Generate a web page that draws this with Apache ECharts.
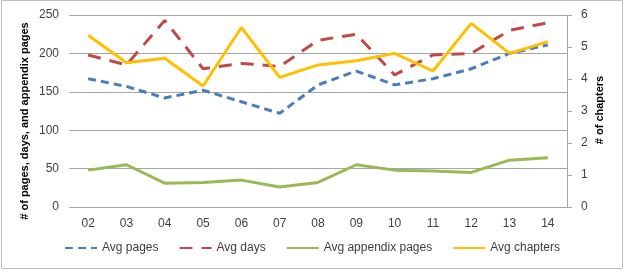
<!DOCTYPE html>
<html>
<head>
<meta charset="utf-8">
<script src="https://cdn.jsdelivr.net/npm/echarts@6/dist/echarts.min.js"></script>
<style>html,body{margin:0;padding:0;background:#fff}#c{width:624px;height:273px}</style>
</head>
<body>
<div id="c"></div>
<script>
var categories = ['02','03','04','05','06','07','08','09','10','11','12','13','14'];
var avgPages = [167, 157, 142, 152, 137, 122, 159, 177, 159, 167, 180, 200, 211];
var avgDays = [198, 185, 243, 180, 187, 183, 217, 225, 172, 198, 200, 230, 240];
var avgAppendix = [48, 55, 31, 32, 35, 26, 32, 55, 48, 47, 45, 61, 64];
var avgChapters = [5.37, 4.51, 4.65, 3.78, 5.61, 4.05, 4.44, 4.57, 4.8, 4.25, 5.74, 4.8, 5.17];
var leftTicks = [0, 50, 100, 150, 200, 250];
var rightTicks = [0, 1, 2, 3, 4, 5, 6];

var FONT = 'Liberation Sans';
var chart = echarts.init(document.getElementById('c'), null, {renderer: 'canvas'});
chart.setOption({
  animation: false,
  backgroundColor: '#fff',
  grid: {left: 69, right: 57, top: 15, bottom: 66},
  legend: {
    bottom: 14, left: 'center',
    itemWidth: 32, itemHeight: 10, itemGap: 20,
    itemStyle: {opacity: 0},
    textStyle: {fontFamily: FONT, fontSize: 12, color: '#404040'},
    data: ['Avg pages', 'Avg days', 'Avg appendix pages', 'Avg chapters']
  },
  xAxis: {
    type: 'category', data: categories, boundaryGap: true,
    axisLine: {show: false}, axisTick: {show: false},
    axisLabel: {fontFamily: FONT, fontSize: 12, color: '#404040', margin: 11}
  },
  yAxis: [{
    type: 'value', min: leftTicks[0], max: leftTicks[leftTicks.length-1], interval: 50,
    axisLine: {show: false}, axisTick: {show: false},
    splitLine: {lineStyle: {color: '#a6a6a6', width: 1}},
    axisLabel: {fontFamily: FONT, fontSize: 12, color: '#404040', margin: 10}
  }, {
    type: 'value', min: rightTicks[0], max: rightTicks[rightTicks.length-1], interval: 1,
    position: 'right',
    axisLine: {show: true, lineStyle: {color: '#a6a6a6'}},
    axisTick: {show: true, length: 5, lineStyle: {color: '#a6a6a6'}},
    splitLine: {show: false},
    axisLabel: {fontFamily: FONT, fontSize: 12, color: '#404040', margin: 14}
  }],
  graphic: [
    {type: 'rect', shape: {x: 1.5, y: 0.5, width: 621, height: 268}, style: {fill: 'none', stroke: '#bfbfbf', lineWidth: 1}, silent: true},
    {type: 'text', x: 25, y: 121, rotation: Math.PI/2, style: {text: '# of pages, days, and appendix pages', font: 'bold 11px ' + FONT, fill: '#000', textAlign: 'center', textVerticalAlign: 'middle'}},
    {type: 'text', x: 600, y: 110, rotation: Math.PI/2, style: {text: '# of chapters', font: 'bold 11px ' + FONT, fill: '#000', textAlign: 'center', textVerticalAlign: 'middle'}}
  ],
  series: [
    {name: 'Avg pages', type: 'line', yAxisIndex: 0, data: avgPages, symbol: 'none', color: '#4a7ebb',
     lineStyle: {width: 3, type: [8, 5], color: '#4a7ebb'}},
    {name: 'Avg days', type: 'line', yAxisIndex: 0, data: avgDays, symbol: 'none', color: '#be4b48',
     lineStyle: {width: 3, type: [13, 9], color: '#be4b48'}},
    {name: 'Avg appendix pages', type: 'line', yAxisIndex: 0, data: avgAppendix, symbol: 'none', color: '#98b954',
     lineStyle: {width: 3, color: '#98b954'}},
    {name: 'Avg chapters', type: 'line', yAxisIndex: 1, data: avgChapters, symbol: 'none', color: '#ffc000',
     lineStyle: {width: 3, color: '#ffc000'}}
  ]
});
</script>
</body>
</html>
